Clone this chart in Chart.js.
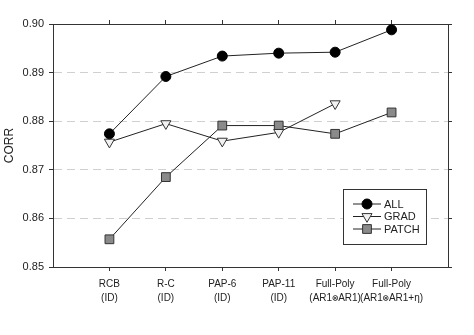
<!DOCTYPE html>
<html>
<head>
<meta charset="utf-8">
<script src="https://cdn.jsdelivr.net/npm/chart.js@4/dist/chart.umd.min.js"></script>
<style>
    html, body { margin: 0; padding: 0; background: #fff; }
    #wrap { width: 474px; height: 335px; }
</style>
</head>
<body>
<div id="wrap"><canvas id="corrChart" width="474" height="335"></canvas></div>
<script>
/* ==========================================================================
   DATA
   ========================================================================== */
const categories = [
    ["RCB", "(ID)"],
    ["R-C", "(ID)"],
    ["PAP-6", "(ID)"],
    ["PAP-11", "(ID)"],
    ["Full-Poly", "(AR1\u2297AR1)"],
    ["Full-Poly", "(AR1\u2297AR1+\u03b7)"]
];
const seriesNames = ["ALL", "GRAD", "PATCH"];
const allValues = [0.8774, 0.8892, 0.8934, 0.8940, 0.8942, 0.8988];
const gradValues = [0.8757, 0.8795, 0.8759, 0.8777, 0.8836, null];
const patchValues = [0.8557, 0.8685, 0.8791, 0.8791, 0.8774, 0.8818];
const yTicks = [0.85, 0.86, 0.87, 0.88, 0.89, 0.90];

const FONT = '"Liberation Sans", Arial, sans-serif';
// the circled-times sign falls back to the narrow mono glyph
const LABEL_FONT = '"Liberation Sans", "DejaVu Sans Mono", sans-serif';
const AXIS_COLOR = "#333";

function toPoints(values) {
    return values.map((v, i) => ({ x: i, y: v }));
}

/* ==========================================================================
   LEGEND (drawn inside the plot)
   ========================================================================== */
function drawMarker(ctx, ds, x, y) {
    ctx.save();
    ctx.fillStyle = ds.pointBackgroundColor;
    ctx.strokeStyle = ds.pointBorderColor;
    ctx.lineWidth = ds.pointBorderWidth;
    ctx.beginPath();
    if (ds.pointStyle === "circle") {
        ctx.arc(x, y, ds.pointRadius, 0, Math.PI * 2);
    } else if (ds.pointStyle === "triangle") {
        const r = ds.pointRadius;
        ctx.moveTo(x, y + r);
        ctx.lineTo(x - r * 0.866, y - r / 2);
        ctx.lineTo(x + r * 0.866, y - r / 2);
        ctx.closePath();
    } else {
        const s = ds.pointRadius * Math.SQRT1_2;
        ctx.rect(x - s, y - s, s * 2, s * 2);
    }
    ctx.fill();
    ctx.stroke();
    ctx.restore();
}

const insideLegend = {
    id: "insideLegend",
    afterDatasetsDraw(chart) {
        const ctx = chart.ctx;
        const box = { x: 343.5, y: 189.5, w: 83, h: 55 };
        ctx.save();
        ctx.fillStyle = "#fff";
        ctx.strokeStyle = AXIS_COLOR;
        ctx.lineWidth = 1;
        ctx.fillRect(box.x, box.y, box.w, box.h);
        ctx.strokeRect(box.x, box.y, box.w, box.h);

        chart.data.datasets.forEach((ds, i) => {
            const yy = 204 + i * 12.5;
            ctx.strokeStyle = ds.borderColor;
            ctx.lineWidth = 1;
            ctx.beginPath();
            ctx.moveTo(353, yy);
            ctx.lineTo(381, yy);
            ctx.stroke();
            drawMarker(ctx, ds, 367, yy);
            ctx.fillStyle = "#222";
            ctx.font = "11px " + FONT;
            ctx.textBaseline = "middle";
            ctx.textAlign = "left";
            ctx.fillText(ds.label, 384, yy + 0.5);
        });
        ctx.restore();
    }
};

/* ==========================================================================
   CHART
   ========================================================================== */
const categoryTicks = () => categories.map((c, i) => ({ value: i }));
const isEdge = v => Math.abs(v - yTicks[0]) < 1e-6 || Math.abs(v - yTicks[yTicks.length - 1]) < 1e-6;

const ctx = document.getElementById("corrChart").getContext("2d");
new Chart(ctx, {
    type: "line",
    data: {
        datasets: [
            {
                label: seriesNames[0],
                data: toPoints(allValues),
                borderColor: "#222",
                borderWidth: 1,
                pointStyle: "circle",
                pointRadius: 5,
                pointBackgroundColor: "#000",
                pointBorderColor: "#000",
                pointBorderWidth: 1
            },
            {
                label: seriesNames[1],
                data: toPoints(gradValues),
                borderColor: "#222",
                borderWidth: 1,
                pointStyle: "triangle",
                rotation: 180,
                pointRadius: 5.8,
                pointBackgroundColor: "#f2f2f2",
                pointBorderColor: "#333",
                pointBorderWidth: 1
            },
            {
                label: seriesNames[2],
                data: toPoints(patchValues),
                borderColor: "#222",
                borderWidth: 1,
                pointStyle: "rect",
                pointRadius: 6.2,
                pointBackgroundColor: "#8a8a8a",
                pointBorderColor: "#333",
                pointBorderWidth: 1
            }
        ]
    },
    options: {
        responsive: false,
        animation: false,
        spanGaps: false,
        clip: false,
        layout: { padding: 0 },
        plugins: {
            legend: { display: false },
            tooltip: { enabled: false }
        },
        scales: {
            x: {
                type: "linear",
                position: "bottom",
                min: -1,
                max: 6,
                afterBuildTicks: s => { s.ticks = categoryTicks(); },
                afterFit: s => { s.height = 68; },
                ticks: {
                    autoSkip: false,
                    maxRotation: 0,
                    padding: 6,
                    color: "#222",
                    font: { family: LABEL_FONT, size: 10, lineHeight: 1.4 },
                    callback: v => categories[v]
                },
                grid: { drawOnChartArea: false, tickLength: 4, tickColor: AXIS_COLOR },
                border: { color: AXIS_COLOR, width: 1 }
            },
            xTop: {
                type: "linear",
                position: "top",
                min: -1,
                max: 6,
                afterBuildTicks: s => { s.ticks = categoryTicks(); },
                afterFit: s => { s.height = 24; },
                ticks: { display: false },
                grid: { drawOnChartArea: false, tickLength: 4, tickColor: AXIS_COLOR },
                border: { color: AXIS_COLOR, width: 1 }
            },
            y: {
                position: "left",
                min: yTicks[0],
                max: yTicks[yTicks.length - 1],
                afterBuildTicks: s => { s.ticks = yTicks.map(v => ({ value: v })); },
                afterFit: s => { s.width = 53; },
                ticks: {
                    padding: 5,
                    color: "#222",
                    font: { family: FONT, size: 11 },
                    callback: v => v.toFixed(2)
                },
                title: {
                    display: true,
                    text: "CORR",
                    color: "#222",
                    padding: 2,
                    font: { family: FONT, size: 12 }
                },
                grid: {
                    color: c => (c.tick && isEdge(c.tick.value)) ? "rgba(0,0,0,0)" : "#d0d0d0",
                    lineWidth: 1,
                    tickLength: 4,
                    tickColor: AXIS_COLOR
                },
                border: { color: AXIS_COLOR, width: 1, dash: [8, 5] }
            },
            yRight: {
                position: "right",
                min: yTicks[0],
                max: yTicks[yTicks.length - 1],
                afterBuildTicks: s => { s.ticks = yTicks.map(v => ({ value: v })); },
                afterFit: s => { s.width = 26; },
                ticks: { display: false },
                grid: { drawOnChartArea: false, tickLength: 4, tickColor: AXIS_COLOR },
                border: { color: AXIS_COLOR, width: 1 }
            }
        }
    },
    plugins: [insideLegend]
});
</script>
</body>
</html>
